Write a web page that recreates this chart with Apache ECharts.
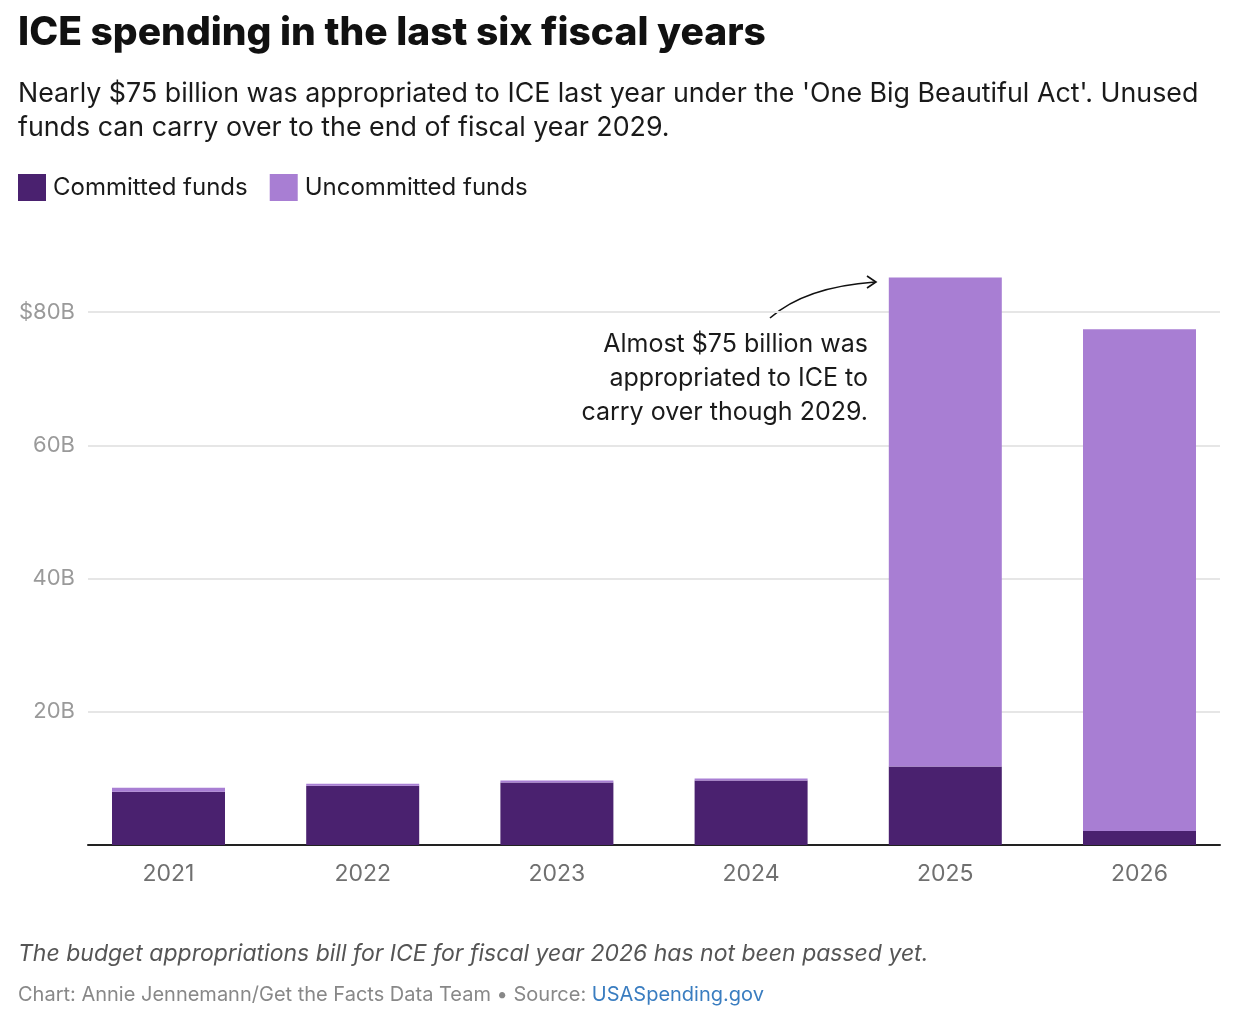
<!DOCTYPE html>
<html>
<head>
<meta charset="utf-8">
<script src="https://cdn.jsdelivr.net/npm/echarts@6/dist/echarts.min.js"></script>
<style>
  html, body { margin: 0; padding: 0; background: #fff; }
  #chart { width: 1244px; height: 1028px; }
</style>
</head>
<body>
<div id="chart"></div>
<script>
// fiscal years and amounts in billions of dollars
var years = ['2021', '2022', '2023', '2024', '2025', '2026'];
var committed = [8.0, 8.9, 9.4, 9.7, 11.8, 2.1];
var uncommitted = [0.6, 0.3, 0.3, 0.3, 73.4, 75.3];
var yTicks = [0, 20, 40, 60, 80];

var FONT = 'Inter, Lato, sans-serif';
var DARK = '#4a216f';
var LIGHT = '#a87ed3';

var myChart = echarts.init(document.getElementById('chart'), null, { renderer: 'canvas' });

var option = {
    animation: false,
    backgroundColor: '#ffffff',
    title: [
        {
            text: 'ICE spending in the last six fiscal years',
            left: 13, top: 5,
            textStyle: { fontFamily: FONT, fontSize: 39, fontWeight: 800, color: '#111', lineHeight: 46 }
        },
        {
            text: "Nearly $75 billion was appropriated to ICE last year under the 'One Big Beautiful Act'. Unused\nfunds can carry over to the end of fiscal year 2029.",
            left: 13, top: 72,
            textStyle: { fontFamily: FONT, fontSize: 26.8, fontWeight: 'normal', color: '#1a1a1a', lineHeight: 34 }
        },
        {
            text: 'The budget appropriations bill for ICE for fiscal year 2026 has not been passed yet.',
            left: 13, top: 935,
            textStyle: { fontFamily: FONT, fontSize: 23, fontStyle: 'italic', fontWeight: 'normal', color: '#555', lineHeight: 28 }
        },
        {
            text: '{a|Chart: Annie Jennemann/Get the Facts Data Team \u2022 Source: }{b|USASpending.gov}',
            left: 13, top: 980,
            textStyle: {
                fontFamily: FONT, fontSize: 20, fontWeight: 'normal', color: '#888',
                rich: {
                    a: { fontFamily: FONT, fontSize: 20, color: '#888' },
                    b: { fontFamily: FONT, fontSize: 20, color: '#3a7dc0' }
                }
            }
        }
    ],
    legend: {
        left: 18, top: 174, padding: 0,
        icon: 'rect',
        itemWidth: 28, itemHeight: 27,
        itemGap: 22,
        textStyle: { fontFamily: FONT, fontSize: 24, color: '#1a1a1a', padding: [0, 0, 0, 2] },
        data: ['Committed funds', 'Uncommitted funds']
    },
    grid: [
        { left: 71.4, right: 7.4, top: 245.4, bottom: 183 },
        { left: 88, right: 24, top: 245.4, bottom: 183 }
    ],
    xAxis: [
        {
            type: 'category', gridIndex: 0, data: years,
            axisLine: { show: false }, axisTick: { show: false },
            axisLabel: { fontFamily: FONT, fontSize: 23, color: '#707070', margin: 18 }
        },
        {
            type: 'value', gridIndex: 1, min: 0, max: 1,
            axisLine: { show: true, onZero: false, lineStyle: { color: '#222', width: 2 } },
            axisTick: { show: false }, axisLabel: { show: false }, splitLine: { show: false }
        }
    ],
    yAxis: [
        { type: 'value', gridIndex: 0, min: 0, max: 90, show: false },
        {
            type: 'value', gridIndex: 1, min: 0, max: 90, interval: 20,
            axisLine: { show: false }, axisTick: { show: false },
            axisLabel: {
                fontFamily: FONT, fontSize: 22, color: '#9a9a9a', margin: 13,
                showMaxLabel: false,
                formatter: function (v) {
                    if (v === 0 || yTicks.indexOf(v) < 0) return '';
                    return (v === yTicks[yTicks.length - 1] ? '$' : '') + v + 'B';
                }
            },
            splitLine: { show: true, showMinLine: false, showMaxLine: false, lineStyle: { color: '#e6e6e6', width: 2 } }
        }
    ],
    series: [
        {
            name: 'Committed funds', type: 'bar', stack: 'total',
            xAxisIndex: 0, yAxisIndex: 0, barWidth: 113,
            itemStyle: { color: DARK },
            data: committed
        },
        {
            name: 'Uncommitted funds', type: 'bar', stack: 'total',
            xAxisIndex: 0, yAxisIndex: 0, barWidth: 113,
            itemStyle: { color: LIGHT },
            data: uncommitted
        }
    ],
    graphic: [
        {
            type: 'text', x: 868, y: 327,
            style: {
                text: 'Almost $75 billion was\nappropriated to ICE to\ncarry over though 2029.',
                font: '25px ' + FONT, fill: '#1a1a1a', textAlign: 'right', lineHeight: 34
            }
        },
        {
            type: 'bezierCurve',
            shape: { x1: 770, y1: 318, cpx1: 805, cpy1: 287, x2: 875, y2: 282 },
            style: { stroke: '#111', lineWidth: 1.6, fill: null }
        },
        {
            type: 'polyline',
            shape: { points: [[867, 276], [876, 282], [867, 288]] },
            style: { stroke: '#111', lineWidth: 1.6, fill: null }
        }
    ]
};

myChart.setOption(option);
</script>
</body>
</html>
